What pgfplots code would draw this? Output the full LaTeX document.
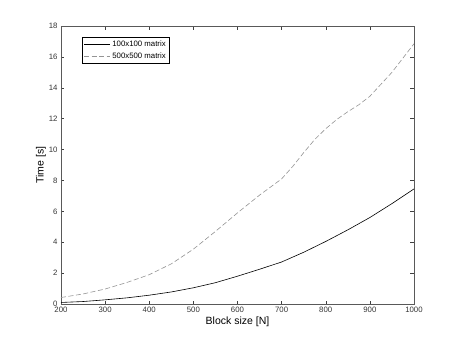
\documentclass[border=0pt]{standalone}
\usepackage{pgfplots}
\pgfplotsset{compat=1.18}
\usepackage{fontspec}
\setmainfont{Liberation Sans}
\begin{document}
\begin{tikzpicture}
\begin{axis}[
  at={(0,0)}, anchor=south west,
  scale only axis, width=353pt, height=278pt,
  xmin=200, xmax=1000, ymin=0, ymax=18,
  xtick={200,300,...,1000}, ytick={0,2,...,18},
  tick align=inside, major tick length=3.5pt,
  axis line style={draw=black!65},
  every tick/.style={black!75},
  tick label style={font=\fontsize{7.8}{8}\selectfont, text=black!80},
  /pgf/number format/assume math mode=true,
  /pgf/number format/1000 sep={},
  xticklabel style={yshift=0pt},
  yticklabel style={xshift=0pt},
  xlabel={Block size [N]}, ylabel={Time [s]},
  label style={font=\fontsize{10.5}{12}\selectfont},
  xlabel style={yshift=3pt},
  ylabel style={yshift=-4pt},
  legend style={at={(axis description cs:0.0595,0.96)}, anchor=north west,
    font=\fontsize{7.8}{9}\selectfont, draw=black, line width=0.6pt,
    inner sep=1.5pt, row sep=1pt, cells={anchor=west}},
  legend cell align=left,
  legend image post style={line width=0.6pt},
  legend image code/.code={\draw[#1] (0pt,0pt) -- (26pt,0pt);},
]
\addplot[black, line width=0.6pt] coordinates {
(200,0.10) (250,0.16) (300,0.27) (350,0.40) (400,0.57) (450,0.78)
(500,1.05) (550,1.38) (600,1.80) (650,2.25) (700,2.72) (750,3.35)
(800,4.05) (850,4.80) (900,5.60) (950,6.50) (1000,7.45)};
\addlegendentry{100x100 matrix}
\addplot[black!42, line width=0.6pt, dash pattern=on 5pt off 2.5pt] coordinates {
(200,0.42) (250,0.65) (300,0.97) (350,1.40) (400,1.90) (450,2.60)
(500,3.55) (550,4.70) (600,5.90) (650,7.05) (700,8.10) (725,8.90)
(750,9.80) (775,10.65) (800,11.35) (825,11.95) (850,12.45) (875,12.90)
(900,13.45) (950,15.00) (1000,16.85)};
\addlegendentry{500x500 matrix}
\end{axis}
\path[use as bounding box] (-61pt,-37pt) rectangle (395pt,304pt);
\end{tikzpicture}
\end{document}
